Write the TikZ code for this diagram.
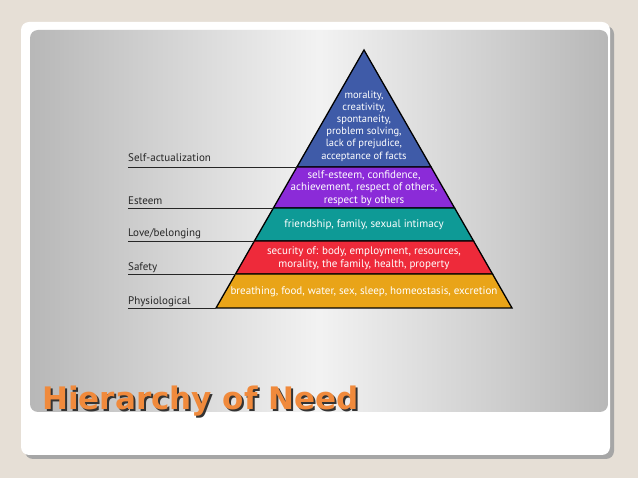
\documentclass[tikz,border=0pt]{standalone}
\usepackage{fontspec}
\setmainfont{PT Sans}
\newfontfamily\titlefont{DejaVu Sans}
\definecolor{bgc}{HTML}{E6DFD6}
\definecolor{lblue}{HTML}{3F5BA8}
\definecolor{lpurple}{HTML}{8B2BD8}
\definecolor{lteal}{HTML}{0E9A96}
\definecolor{lred}{HTML}{EE2A3A}
\definecolor{lorange}{HTML}{E9A418}
\definecolor{torange}{HTML}{F08A3C}
\begin{document}
\begin{tikzpicture}[x=1pt,y=-1pt,
  layer/.style={draw=black,line width=1.3pt,line join=miter},
  ltext/.style={text=white,font=\fontsize{11}{12.6}\selectfont,align=center,inner sep=0pt},
  lab/.style={anchor=base west,font=\fontsize{11}{12}\selectfont,text=black!85,inner sep=0pt},
  guide/.style={black!85,line width=0.8pt},
  ttl/.style={anchor=base west,inner sep=0pt,font=\titlefont\bfseries\fontsize{31}{32}\selectfont}]
\useasboundingbox (0,0) rectangle (638,478);
\fill[bgc] (0,0) rectangle (638,478);
\fill[black!35,rounded corners=8pt] (25,26) rectangle (614,459);
\fill[white,rounded corners=8pt] (21,22) rectangle (610,455);
\begin{scope}
\clip[rounded corners=8pt] (30,30) rectangle (608,412);
\shade[left color=black!28,right color=black!28,middle color=black!5] (30,30) rectangle (608,412);
\end{scope}
% pyramid layers
\coordinate (apex) at (364,50);
\filldraw[layer,fill=lblue] (apex) -- (431.1,167) -- (296.9,167) -- cycle;
\filldraw[layer,fill=lpurple] (296.9,167) -- (431.1,167) -- (454.6,208) -- (273.4,208) -- cycle;
\filldraw[layer,fill=lteal] (273.4,208) -- (454.6,208) -- (473.6,241) -- (254.4,241) -- cycle;
\filldraw[layer,fill=lred] (254.4,241) -- (473.6,241) -- (492.5,274) -- (235.5,274) -- cycle;
\filldraw[layer,fill=lorange] (235.5,274) -- (492.5,274) -- (512,308) -- (216,308) -- cycle;
\node[ltext,font=\fontsize{10.5}{12.2}\selectfont] (t1) at (364,126) {morality,\\creativity,\\spontaneity,\\problem solving,\\lack of prejudice,\\acceptance of facts};
\node[ltext] (t2) at (364,188) {self-esteem, confidence,\\achievement, respect of others,\\respect by others};
\node[ltext] (t3) at (364,225) {friendship, family, sexual intimacy};
\node[ltext] (t4) at (364,258) {security of: body, employment, resources,\\morality, the family, health, property};
\node[ltext] (t5) at (364,292) {breathing, food, water, sex, sleep, homeostasis, excretion};
% labels
\coordinate (g1) at (296.9,167); \coordinate (g2) at (273.4,208);
\coordinate (g3) at (254.4,241); \coordinate (g4) at (235.5,274);
\coordinate (g5) at (216,308);
\node[lab] (l1) at (128,162) {Self-actualization};
\node[lab] (l2) at (128,205) {Esteem};
\node[lab] (l3) at (128,237) {Love/belonging};
\node[lab] (l4) at (128,271) {Safety};
\node[lab] (l5) at (128,305) {Physiological};
\draw[guide] (128,167) -- (g1);
\draw[guide] (128,208) -- (g2);
\draw[guide] (128,241) -- (g3);
\draw[guide] (128,274) -- (g4);
\draw[guide] (128,308) -- (g5);
% title with shadow
\begin{scope}[transform canvas={shift={(2pt,-2pt)}}]
\node[ttl,text=black!80] at (42,410) {Hierarchy of Need};
\end{scope}
\node[ttl,text=torange] (title) at (42,410) {Hierarchy of Need};
\end{tikzpicture}
\end{document}
